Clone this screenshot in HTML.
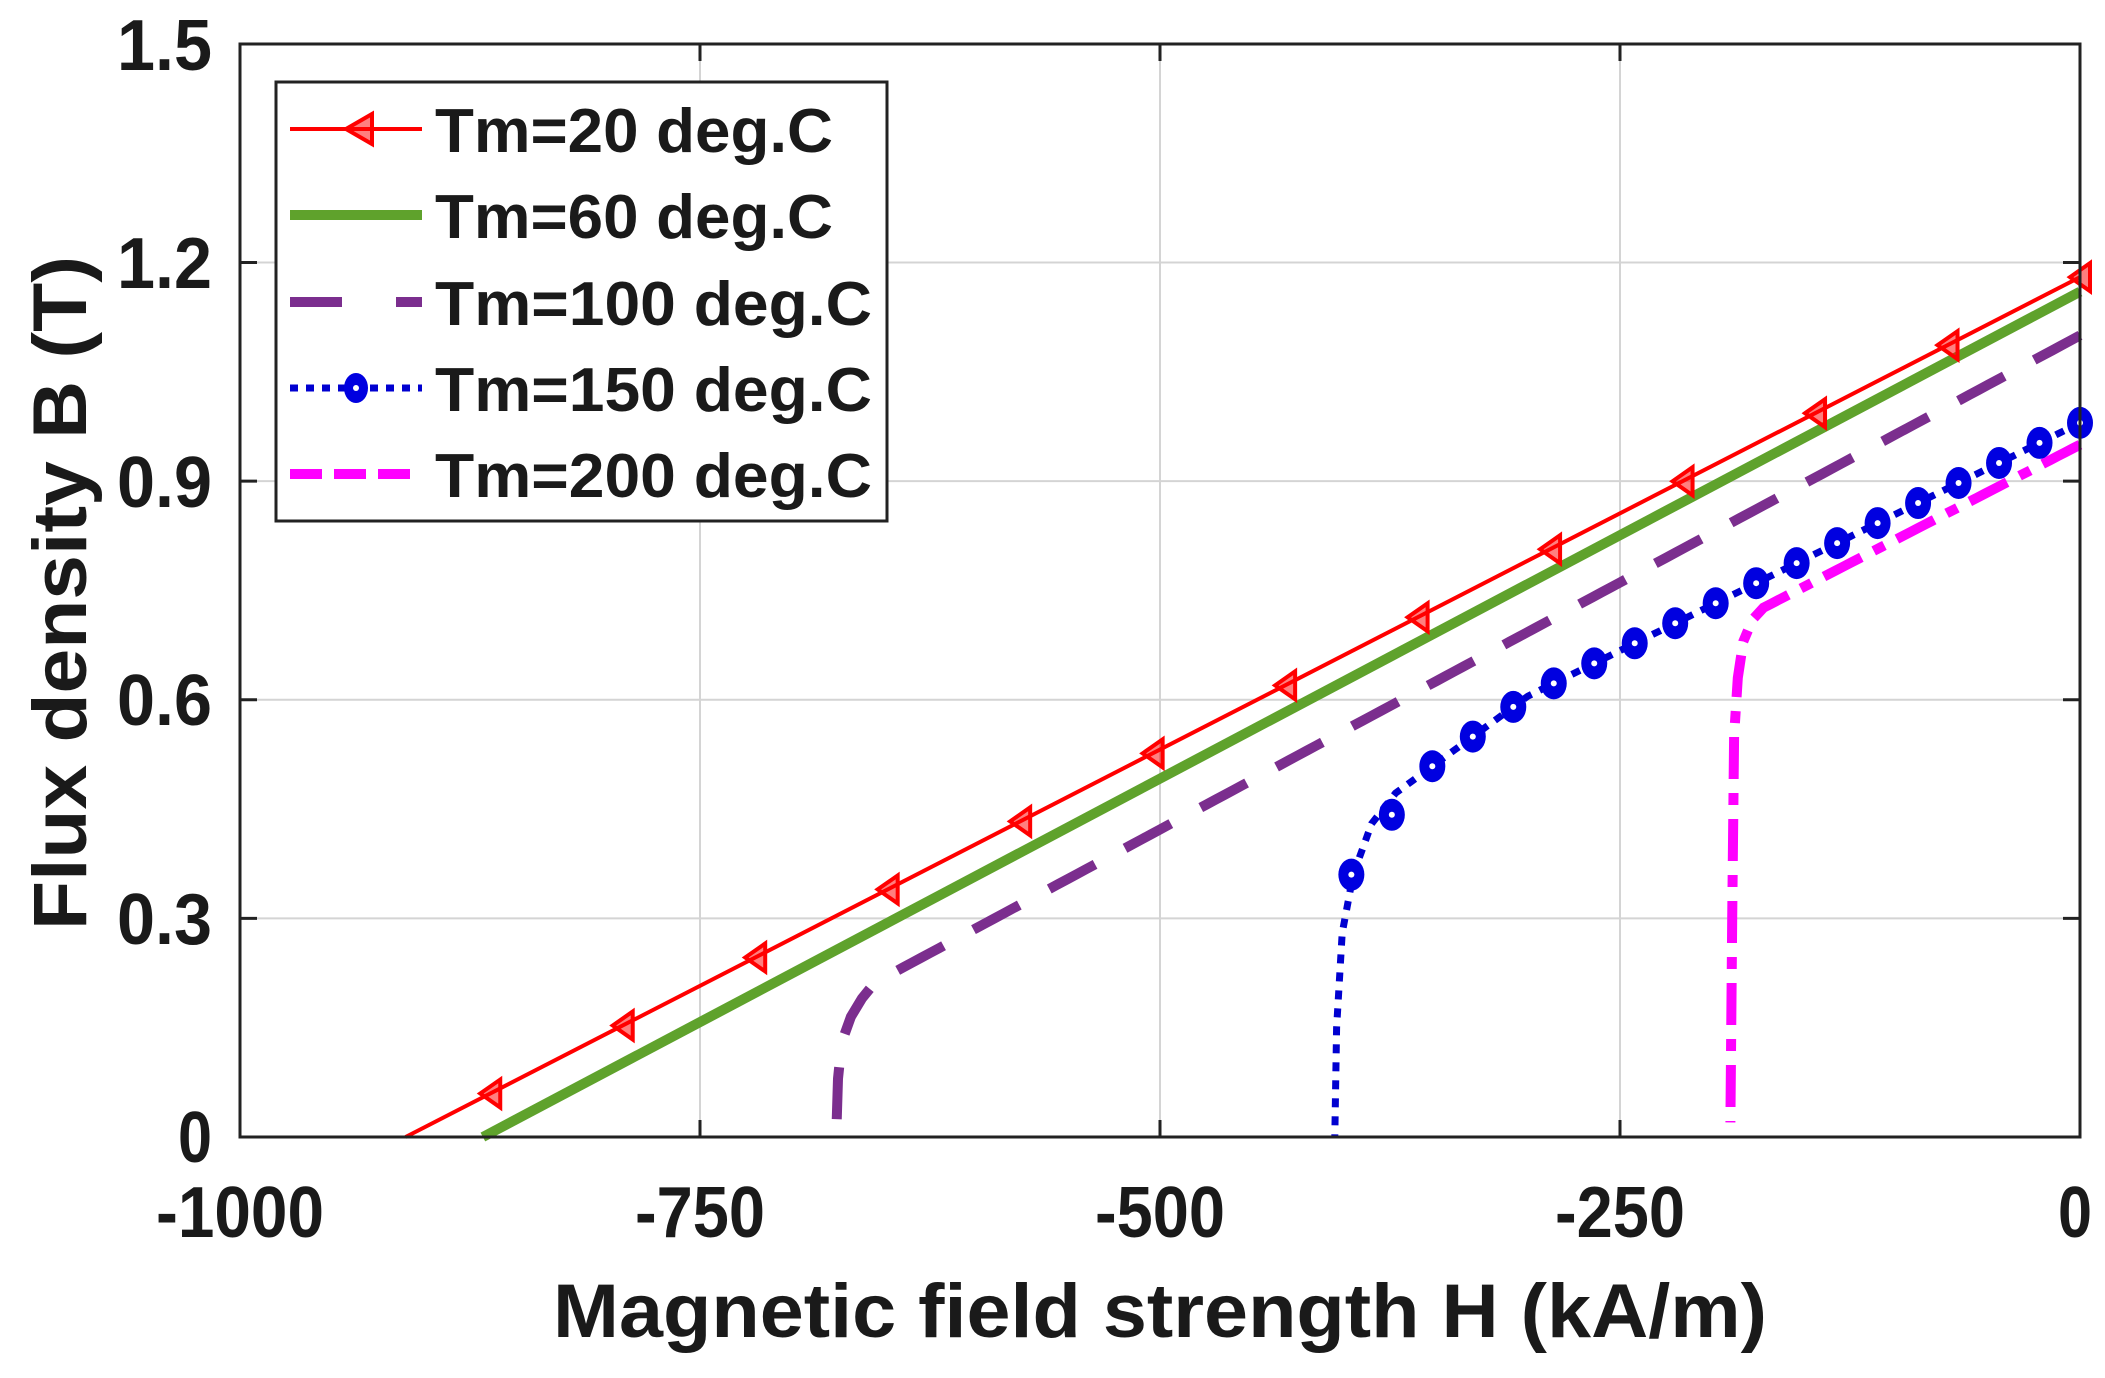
<!DOCTYPE html>
<html><head><meta charset="utf-8"><style>
html,body{margin:0;padding:0;background:#fff;}
svg{display:block;}
text{font-family:"Liberation Sans",sans-serif;font-weight:bold;fill:#1a1a1a;}
</style></head><body>
<svg id="s" width="2105" height="1378" viewBox="0 0 2105 1378" xmlns="http://www.w3.org/2000/svg">
<rect width="2105" height="1378" fill="#fff"/>
<g id="grid" stroke="#d4d4d4" stroke-width="2"></g>
<g id="series"></g>
<rect x="240" y="44" width="1840" height="1093" fill="none" stroke="#222" stroke-width="3"/>
<g id="ticks" stroke="#222" stroke-width="3"></g>
<g font-size="72" text-anchor="end" lengthAdjust="spacingAndGlyphs">
<text x="212" y="1162" textLength="34" lengthAdjust="spacingAndGlyphs">0</text>
<text x="212" y="944" textLength="95" lengthAdjust="spacingAndGlyphs">0.3</text>
<text x="212" y="725" textLength="95" lengthAdjust="spacingAndGlyphs">0.6</text>
<text x="212" y="507" textLength="95" lengthAdjust="spacingAndGlyphs">0.9</text>
<text x="212" y="288" textLength="95" lengthAdjust="spacingAndGlyphs">1.2</text>
<text x="212" y="70" textLength="95" lengthAdjust="spacingAndGlyphs">1.5</text>
</g>
<g font-size="72" text-anchor="middle">
<text x="240" y="1237" textLength="168" lengthAdjust="spacingAndGlyphs">-1000</text>
<text x="700" y="1237" textLength="130" lengthAdjust="spacingAndGlyphs">-750</text>
<text x="1160" y="1237" textLength="130" lengthAdjust="spacingAndGlyphs">-500</text>
<text x="1620" y="1237" textLength="130" lengthAdjust="spacingAndGlyphs">-250</text>
<text x="2075" y="1237" textLength="34" lengthAdjust="spacingAndGlyphs">0</text>
</g>
<text x="1160" y="1337" font-size="76" text-anchor="middle" textLength="1214" lengthAdjust="spacingAndGlyphs">Magnetic field strength H (kA/m)</text>
<text transform="translate(86,593) rotate(-90)" font-size="76" text-anchor="middle" textLength="674" lengthAdjust="spacingAndGlyphs">Flux density B (T)</text>
<g>
<rect x="276" y="82" width="611" height="439" fill="#fff" stroke="#222" stroke-width="3"/>
<line x1="290" y1="129" x2="422" y2="129" stroke="#f00" stroke-width="4"/>
<path d="M346,129 L372,114 L372,144 Z" fill="#f00" fill-opacity="0.5" stroke="#f00" stroke-width="4"/>
<line x1="290" y1="215" x2="422" y2="215" stroke="#5fa22c" stroke-width="10"/>
<line x1="290" y1="302" x2="422" y2="302" stroke="#7b2e8e" stroke-width="10" stroke-dasharray="52,54"/>
<line x1="290" y1="388" x2="422" y2="388" stroke="#0000d0" stroke-width="7" stroke-dasharray="8,8"/>
<ellipse cx="356" cy="388" rx="12" ry="15" fill="#0000e0"/><circle cx="356" cy="388" r="3" fill="#fff"/>
<line x1="290" y1="474" x2="422" y2="474" stroke="#f0f" stroke-width="10" stroke-dasharray="32,12"/>
<g font-size="62">
<text x="435" y="152" textLength="398" lengthAdjust="spacingAndGlyphs">Tm=20 deg.C</text>
<text x="435" y="238" textLength="398" lengthAdjust="spacingAndGlyphs">Tm=60 deg.C</text>
<text x="435" y="325" textLength="437" lengthAdjust="spacingAndGlyphs">Tm=100 deg.C</text>
<text x="435" y="411" textLength="437" lengthAdjust="spacingAndGlyphs">Tm=150 deg.C</text>
<text x="435" y="497" textLength="437" lengthAdjust="spacingAndGlyphs">Tm=200 deg.C</text>
</g>
</g>
</svg>
<script>
var X=function(h){return 2080+h*1.84},Y=function(b){return 1137-b*728.7};
var ns="http://www.w3.org/2000/svg";
function el(p,t,a){var e=document.createElementNS(ns,t);for(var k in a)e.setAttribute(k,a[k]);document.getElementById(p).appendChild(e);return e;}
[-750,-500,-250].forEach(function(h){el("grid","line",{x1:X(h),y1:44,x2:X(h),y2:1137});});
[0.3,0.6,0.9,1.2].forEach(function(b){el("grid","line",{x1:240,y1:Y(b),x2:2080,y2:Y(b)});});
[-1000,-750,-500,-250,0].forEach(function(h){el("ticks","line",{x1:X(h),y1:1137,x2:X(h),y2:1120});el("ticks","line",{x1:X(h),y1:44,x2:X(h),y2:61});});
[0,0.3,0.6,0.9,1.2,1.5].forEach(function(b){el("ticks","line",{x1:240,y1:Y(b),x2:257,y2:Y(b)});el("ticks","line",{x1:2080,y1:Y(b),x2:2063,y2:Y(b)});});
function P(pts){return "M"+pts.map(function(p){return X(p[0]).toFixed(1)+","+Y(p[1]).toFixed(1)}).join(" L");}
el("series","path",{d:P([[-868,0],[0,1.16]]),stroke:"#5fa22c","stroke-width":10,fill:"none"});
var pp=[];for(var h=0;h>=-655;h-=5)pp.push([h,1.10+0.001356*h]);
pp.push([-662,0.19],[-668,0.165],[-673,0.13],[-675,0.08],[-676,0]);
el("series","path",{d:P(pp),stroke:"#7b2e8e","stroke-width":10,fill:"none","stroke-dasharray":"52,34"});
var mp=[];for(var h=0;h>=-172;h-=4)mp.push([h,0.95+0.0013*h]);
mp.push([-178,0.71],[-183,0.68],[-186,0.63],[-188,0.55],[-189,0.3],[-190,0.02]);
el("series","path",{d:P(mp),stroke:"#f0f","stroke-width":10,fill:"none","stroke-dasharray":"42,14,12,14"});
var bp=[];for(var h=0;h>=-372;h-=4)bp.push([h,0.98+0.00125*h+(h<-300?0.0006*(h+300):0)]);
bp.push([-385,0.43],[-395,0.36],[-401,0.28],[-404,0.15],[-405,0]);
el("series","path",{d:P(bp),stroke:"#0000d0","stroke-width":7,fill:"none","stroke-dasharray":"9,9"});
function bb(h){if(h>=-372)return 0.98+0.00125*h+(h<-300?0.0006*(h+300):0);return 0.36+(h+395)/-23*(-0.09);}
for(var i=0;i<=18;i++){var h=-i*22;var b=bb(h);if(i==18)b=0.36;
el("series","ellipse",{cx:X(h),cy:Y(b),rx:13,ry:16,fill:"#0000e0"});
el("series","circle",{cx:X(h),cy:Y(b),r:3,fill:"#fff"});}
el("series","path",{d:P([[-910,0],[0,1.18]]),stroke:"#f00","stroke-width":4,fill:"none"});
for(var i=0;i<=12;i++){var h=-i*72,b=1.18*(1+h/910),x=X(h),y=Y(b);
el("series","path",{d:"M"+(x-10)+","+y+" L"+(x+10)+","+(y-14)+" L"+(x+10)+","+(y+14)+" Z",fill:"#f00","fill-opacity":"0.5",stroke:"#f00","stroke-width":4});}
</script>
</body></html>
